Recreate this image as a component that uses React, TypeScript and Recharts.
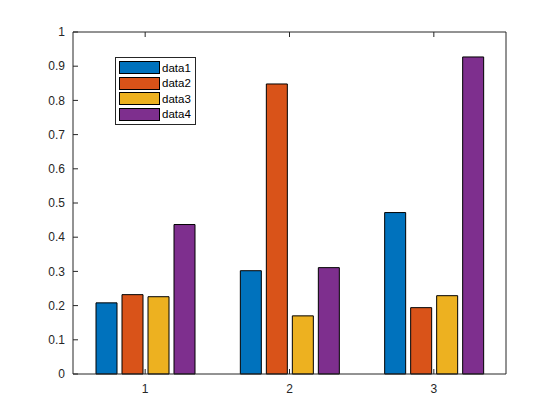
import { Bar, BarChart, XAxis, YAxis } from 'recharts'

const categories = ['1', '2', '3']
const data1 = [0.208, 0.302, 0.472]
const data2 = [0.232, 0.848, 0.194]
const data3 = [0.226, 0.17, 0.229]
const data4 = [0.437, 0.311, 0.927]
const yTicks = [0, 0.1, 0.2, 0.3, 0.4, 0.5, 0.6, 0.7, 0.8, 0.9, 1]

const seriesNames = ['data1', 'data2', 'data3', 'data4']
const seriesColors = ['#0072BD', '#D95319', '#EDB120', '#7E2F8E']

const rows = categories.map((c, i) => ({
  cat: c,
  data1: data1[i],
  data2: data2[i],
  data3: data3[i],
  data4: data4[i],
}))

const axisColor = '#262626'
const font = '"Liberation Sans", Arial, Helvetica, sans-serif'

// legend drawn as an overlay so it doesn't eat chart height
function LegendBox() {
  return (
    <div
      style={{
        position: 'absolute',
        left: 115,
        top: 57,
        border: '1px solid #262626',
        background: '#fff',
        padding: '2px 4px 2px 3px',
        fontFamily: font,
        fontSize: 11.5,
        color: '#000',
      }}
    >
      {seriesNames.map((name, i) => (
        <div key={name} style={{ display: 'flex', alignItems: 'center', height: 15.5 }}>
          <span
            style={{
              display: 'inline-block',
              width: 39,
              height: 11,
              background: seriesColors[i],
              border: '1px solid #000',
              marginRight: 2,
            }}
          />
          <span>{name}</span>
        </div>
      ))}
    </div>
  )
}

export default function App() {
  return (
    <div style={{ position: 'absolute', left: 0, top: 0, width: 560, height: 420, background: '#fff' }}>
      <BarChart
        width={560}
        height={420}
        data={rows}
        margin={{ top: 0, right: 0, bottom: 0, left: 0 }}
        barSize={21}
        barGap={5}
      >
        <XAxis
          dataKey="cat"
          xAxisId="bottom"
          orientation="bottom"
          height={46}
          tickSize={-5}
          tickMargin={15}
          stroke={axisColor}
          tick={{ fill: axisColor, fontSize: 12, fontFamily: font }}
          tickLine={{ stroke: axisColor }}
        />
        <XAxis
          dataKey="cat"
          xAxisId="top"
          orientation="top"
          height={32}
          tickSize={-5}
          stroke={axisColor}
          tickFormatter={() => ''}
          tickLine={{ stroke: axisColor }}
        />
        <YAxis
          yAxisId="left"
          orientation="left"
          width={73}
          domain={[0, 1]}
          ticks={yTicks}
          interval={0}
          tickSize={-5}
          tickMargin={13}
          stroke={axisColor}
          tick={{ fill: axisColor, fontSize: 12, fontFamily: font }}
          tickLine={{ stroke: axisColor }}
          tickFormatter={(v: number) => String(Number(v.toFixed(1)))}
        />
        <YAxis
          yAxisId="right"
          orientation="right"
          width={54}
          domain={[0, 1]}
          ticks={yTicks}
          interval={0}
          tickSize={-5}
          stroke={axisColor}
          tickLine={{ stroke: axisColor }}
          tickFormatter={() => ''}
        />
        {seriesNames.map((name, i) => (
          <Bar
            key={name}
            dataKey={name}
            xAxisId="bottom"
            yAxisId="left"
            fill={seriesColors[i]}
            stroke="#000"
            strokeWidth={1}
            isAnimationActive={false}
          />
        ))}
      </BarChart>
      <LegendBox />
    </div>
  )
}
